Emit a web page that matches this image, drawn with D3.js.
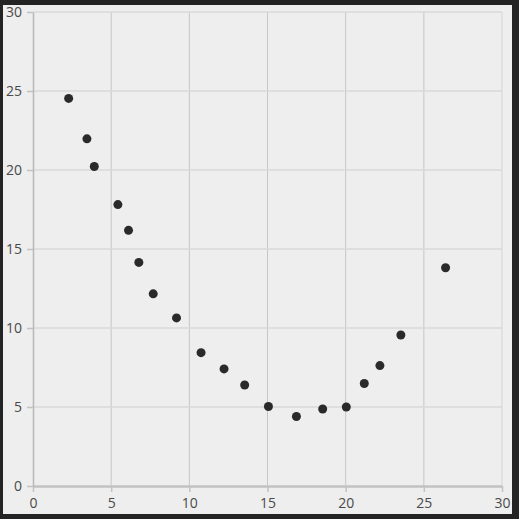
<!DOCTYPE html>
<html>
<head>
<meta charset="utf-8">
<script src="https://cdn.jsdelivr.net/npm/d3@7"></script>
<style>
  html, body { margin: 0; padding: 0; background: #232323; }
  svg { display: block; }
  .tick text { font-family: "Open Sans", sans-serif; font-size: 14px; fill: #4a4a4a; }
</style>
</head>
<body>
<svg id="chart"></svg>
<script>
// values
const xValues = [2.28, 3.45, 3.92, 5.43, 6.11, 6.77, 7.69, 9.18, 10.75, 12.22, 13.54, 15.06, 16.85, 18.53, 20.04, 21.19, 22.19, 23.53, 26.39];
const yValues = [24.53, 21.97, 20.22, 17.81, 16.18, 14.15, 12.16, 10.64, 8.44, 7.41, 6.39, 5.03, 4.40, 4.87, 5.0, 6.49, 7.62, 9.56, 13.81];
const xTicks = [0, 5, 10, 15, 20, 25, 30];
const yTicks = [0, 5, 10, 15, 20, 25, 30];

const W = 519, H = 519;
const margin = { top: 12, right: 17, bottom: 33, left: 33 };

const svg = d3.select('#chart')
    .attr('width', W)
    .attr('height', H);

// light panel
svg.append('rect')
    .attr('x', 3).attr('y', 5)
    .attr('width', 509).attr('height', 509)
    .attr('fill', '#eeeeee');

const x = d3.scaleLinear().domain([0, 30]).range([margin.left, W - margin.right]);
const y = d3.scaleLinear().domain([0, 30]).range([H - margin.bottom, margin.top]);

// grid lines
svg.append('g').selectAll('line')
    .data(xTicks.slice(1))
    .enter().append('line')
    .attr('x1', d => x(d)).attr('x2', d => x(d))
    .attr('y1', y(30)).attr('y2', y(0))
    .attr('stroke', d => d === 30 ? '#d4d4d4' : '#c6c6c6')
    .attr('stroke-width', 1);

svg.append('g').selectAll('line')
    .data(yTicks.slice(1))
    .enter().append('line')
    .attr('x1', x(0)).attr('x2', x(30))
    .attr('y1', d => y(d)).attr('y2', d => y(d))
    .attr('stroke', '#d8d8d8')
    .attr('stroke-width', 1.5);

// axes
const xAxis = svg.append('g')
    .attr('transform', `translate(0,${y(0)})`)
    .call(d3.axisBottom(x).tickValues(xTicks).tickSize(6).tickPadding(5).tickSizeOuter(0));
const yAxis = svg.append('g')
    .attr('transform', `translate(${x(0)},0)`)
    .call(d3.axisLeft(y).tickValues(yTicks).tickSize(6).tickPadding(5).tickSizeOuter(0));

xAxis.select('.domain').attr('stroke', '#c2c2c2').attr('stroke-width', 2.5);
yAxis.select('.domain').attr('stroke', '#b8b8b8').attr('stroke-width', 1.5);
xAxis.selectAll('.tick line').attr('stroke', '#c2c2c2').attr('stroke-width', 1.5);
yAxis.selectAll('.tick line').attr('stroke', '#c2c2c2').attr('stroke-width', 1.5);
xAxis.selectAll('.tick text').attr('dy', '0.75em');

// dots
svg.append('g').selectAll('circle')
    .data(xValues.map((d, i) => ({ x: d, y: yValues[i] })))
    .enter().append('circle')
    .attr('cx', d => x(d.x))
    .attr('cy', d => y(d.y))
    .attr('r', 4.5)
    .attr('fill', '#2a2a2a');
</script>
</body>
</html>
